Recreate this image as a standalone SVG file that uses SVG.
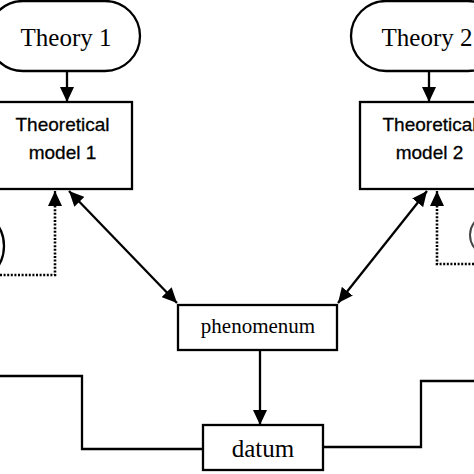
<svg xmlns="http://www.w3.org/2000/svg" width="474" height="474" viewBox="0 0 474 474">
<defs>
<marker id="ah" markerUnits="userSpaceOnUse" markerWidth="16" markerHeight="14" refX="15" refY="7" orient="auto-start-reverse" viewBox="0 0 16 14">
<path d="M0,0 L15,7 L0,14 z" fill="#000"/>
</marker>
<style>
.box{fill:#fff;stroke:#000;stroke-width:2.3}
.ln{fill:none;stroke:#000;stroke-width:2.3}
.dot{fill:none;stroke:#000;stroke-width:2.6;stroke-dasharray:2 1.6}
.serif{font-family:"Liberation Serif","Times New Roman",serif;fill:#000;text-anchor:middle}
.sans{font-family:"Liberation Sans",Arial,sans-serif;fill:#000;text-anchor:middle;font-size:19px;stroke:#000;stroke-width:0.3}
</style>
</defs>
<rect width="474" height="474" fill="#fff"/>
<g id="connectors">
<line class="ln" x1="67" y1="71" x2="67" y2="102" marker-end="url(#ah)"/>
<line class="ln" x1="429" y1="71" x2="429" y2="102" marker-end="url(#ah)"/>
<line class="ln" x1="69" y1="191" x2="177" y2="303" marker-start="url(#ah)" marker-end="url(#ah)"/>
<line class="ln" x1="427" y1="191" x2="338" y2="303" marker-start="url(#ah)" marker-end="url(#ah)"/>
<polyline class="dot" points="0,275 55,275 55,206"/>
<line class="ln" x1="55" y1="204" x2="55" y2="191" marker-end="url(#ah)"/>
<polyline class="dot" points="474,264 437,264 437,206"/>
<line class="ln" x1="437" y1="204" x2="437" y2="191" marker-end="url(#ah)"/>
<line class="ln" x1="260" y1="351" x2="260" y2="425" marker-end="url(#ah)"/>
<polyline class="ln" points="0,376 82,376 82,449 203,449"/>
<polyline class="ln" points="323,447 421,447 421,381 474,381"/>
</g>
<g id="theory1">
<rect class="box" x="-12" y="1" width="152" height="70" rx="35" ry="35"/>
<text class="serif" x="66" y="46" font-size="25">Theory 1</text>
</g>
<g id="theory2">
<rect class="box" x="351" y="1" width="152" height="70" rx="35" ry="35"/>
<text class="serif" x="427" y="46" font-size="25">Theory 2</text>
</g>
<g id="model1">
<rect class="box" x="-7" y="102" width="139" height="87"/>
<text class="sans" x="62.5" y="131">Theoretical</text>
<text class="sans" x="62.5" y="159">model 1</text>
</g>
<g id="model2">
<rect class="box" x="360" y="102" width="139" height="87"/>
<text class="sans" x="429.5" y="131">Theoretical</text>
<text class="sans" x="429.5" y="159">model 2</text>
</g>
<g id="leftEllipse">
<ellipse class="ln" cx="-20" cy="246" rx="24" ry="31"/>
</g>
<g id="rightEllipse">
<ellipse cx="494" cy="235" rx="24" ry="22" fill="none" stroke="#444" stroke-width="2"/>
</g>
<g id="phenomenum">
<rect class="box" x="178" y="305" width="159" height="45"/>
<text class="serif" x="258" y="333" font-size="21">phenomenum</text>
</g>
<g id="datum">
<rect class="box" x="203" y="425" width="120" height="45"/>
<text class="serif" x="263" y="457" font-size="25">datum</text>
</g>
</svg>
